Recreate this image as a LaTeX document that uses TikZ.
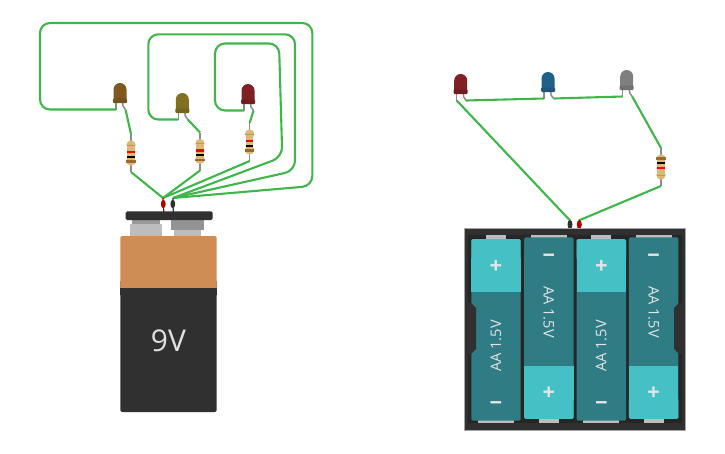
\documentclass[tikz,border=0pt]{standalone}
\usepackage{fontspec}
\setmainfont{Open Sans}
\usetikzlibrary{positioning}
\definecolor{wiregreen}{HTML}{3FB54A}
\definecolor{legray}{HTML}{8C8C8C}
\definecolor{ledbrown}{HTML}{7F5A20}
\definecolor{ledolive}{HTML}{807020}
\definecolor{ledred}{HTML}{7E2024}
\definecolor{ledblue}{HTML}{1F6088}
\definecolor{ledgray}{HTML}{7F7F7F}
\definecolor{resbody}{HTML}{DDB878}
\definecolor{resbrown}{HTML}{9A6A30}
\definecolor{resgold}{HTML}{B89A50}
\definecolor{cellteal}{HTML}{2F7C85}
\definecolor{cellplus}{HTML}{45C1C6}
\definecolor{caseblack}{HTML}{303030}
\definecolor{metal}{HTML}{BDBDBD}
\definecolor{orangecase}{HTML}{CE8D54}
\tikzset{wire/.style={draw=wiregreen, line width=2.1pt, line join=round}}
\tikzset{roundwire/.style={wire, rounded corners=10pt}}
\tikzset{leg/.style={draw=legray, line width=1.5pt}}
\tikzset{celltext/.style={text=white!90!black, inner sep=0pt}}
\tikzset{pics/led/.style={code={
    \draw [leg] (-4,18) -- (-4,26.5);
    \draw [leg] (2.5,18) -- (3,23) -- (5.5,26.5);
    \fill [#1] (-6.5,17) -- (-6.5,6.5) arc [start angle=180, end angle=360, radius=6.5] -- (6.5,17) -- cycle;
    \fill [#1!90!black, rounded corners=1pt] (-7,15.5) rectangle (7,20);
    \coordinate (-a) at (-4,26.5);
    \coordinate (-k) at (5.5,26.5);
}}}
\tikzset{pics/resistor/.style={code={
    \draw [leg] (0,-19) -- (0,19);
    \fill [resbody] (0,-8) ellipse [x radius=4.7, y radius=4.6];
    \fill [resbody] (0,8) ellipse [x radius=4.7, y radius=4.6];
    \fill [resbody] (-3.6,-9) rectangle (3.6,9);
    \fill [resgold]  (-4.4,-8.4) rectangle (4.4,-7.6);
    \fill [red]      (-3.6,-2.2) rectangle (3.6,0);
    \fill [black]    (-3.6,2.6) rectangle (3.6,4.8);
    \fill [resbrown] (-4.6,7.4) rectangle (4.6,9.8);
    \coordinate (-t) at (0,-19);
    \coordinate (-b) at (0,19);
}}}
\tikzset{pics/aacell/.style={code={
    \fill [metal] (-10,-95) rectangle (10,-90);
    \fill [metal] (-18,90) rectangle (18,93.5);
    \fill [cellteal, rounded corners=1.5pt] (-24.7,-90.8) rectangle (24.7,90.8);
    \fill [cellplus, rounded corners=1.5pt] (-24.7,-90.8) rectangle (24.7,-70);
    \fill [cellplus] (-24.7,-72) rectangle (24.7,-38.2);
    \node [celltext, font=\bfseries\fontsize{22}{22}\selectfont] (-plus) at (0,-63) {+};
    \node [celltext, rotate=90, font=\fontsize{14.6}{15}\selectfont] (-label) at (0,16.2) {AA 1.5V};
    \node [celltext, font=\bfseries\fontsize{22}{22}\selectfont] (-minus) at (0,76.5) {\char"2212};
}}}

\begin{document}
\begin{tikzpicture}[x=1pt, y=-1pt]
  \useasboundingbox (0,0) rectangle (725,453);

  % left circuit
  \begin{scope}
    \pic (ledA) at (120,83)    {led=ledbrown};
    \pic (ledB) at (182.3,93)  {led=ledolive};
    \pic (ledC) at (248,84)    {led=ledred};
    \pic (resA) at (131,153)   {resistor};
    \pic (resB) at (200,151.5) {resistor};
    \pic (resC) at (249.7,142) {resistor};

    \coordinate (clipred)   at (163,198);
    \coordinate (clipblack) at (173,198);

    \draw [wire]      (ledA-k) -- (resA-t);
    \draw [wire]      (ledB-k) -- (resB-t);
    \draw [wire]      (ledC-k) -- (resC-t);
    \draw [wire]      (resA-b) -- (clipred);
    \draw [wire]      (resB-b) -- (clipred);
    \draw [wire]      (resC-b) -- (clipred);
    \draw [roundwire] (ledA-a) -- (40,109.5) -- (40,23)   -- (312.3,23) -- (312.3,186)   -- (clipblack);
    \draw [roundwire] (ledB-a) -- (148.3,119.5) -- (148.3,34.3) -- (295,34.3) -- (295,170.7) -- (clipblack);
    \draw [roundwire] (ledC-a) -- (215,110.5) -- (215,43.5) -- (279,43.5) -- (282.3,157) -- (clipblack);

    % 9V battery
    \draw [line width=1.2pt, red!70!black] (clipred) -- (163.8,212);
    \draw [line width=1.2pt, caseblack]    (clipblack) -- (173.2,212);
    \fill [red!70!black] (163.3,204) ellipse [x radius=2.4, y radius=4.2];
    \fill [caseblack]    (172.8,204) ellipse [x radius=2.4, y radius=4.2];

    \fill [gray!80]   (132.3,219) rectangle (160,225);
    \fill [metal]     (129.7,224) rectangle (162.3,237);
    \fill [gray!85]   (171,219) rectangle (204,230);
    \fill [metal]     (174,230) rectangle (201.3,237);
    \fill [caseblack, rounded corners=1.5pt] (125.7,211.3) rectangle (212.7,220);
    \fill [caseblack, rounded corners=1.5pt] (120.3,280) rectangle (216.7,412);
    \fill [orangecase, rounded corners=1.5pt] (120.3,236) rectangle (216.7,290);
    \fill [caseblack] (120.3,288) rectangle (216.7,295);
    \node [text=white!88!black, inner sep=0pt, font=\fontsize{30}{30}\selectfont] (ninev) at (168.5,341) {9V};
  \end{scope}

  % right circuit
  \begin{scope}
    \pic (ledD) at (460.7,74) {led=ledred};
    \pic (ledE) at (548,72)   {led=ledblue};
    \pic (ledF) at (626.7,70) {led=ledgray};
    \pic [rotate=180] (resD) at (661,167) {resistor};

    \coordinate (termblack) at (570,220.5);
    \coordinate (termred)   at (578.7,220.5);

    \draw [wire] (ledD-a) -- (termblack);
    \draw [wire] (ledD-k) -- (ledE-a);
    \draw [wire] (ledE-k) -- (ledF-a);
    \draw [wire] (ledF-k) -- (resD-b);
    \draw [wire] (resD-t) -- (termred);

    % battery holder
    \fill [caseblack]    (570,224.5) ellipse [x radius=2.5, y radius=4.5];
    \fill [red!70!black] (579.3,224.5) ellipse [x radius=2.5, y radius=4.5];
    \fill [caseblack, draw=gray!70, line width=0.6pt] (464.3,228) rectangle (685,430);
    \fill [black!85] (468,234.7) rectangle (681.7,423.3);

    \pic [transform shape]             (cellA) at (496,329.85)   {aacell};
    \pic [rotate=180, transform shape] (cellB) at (548.85,328.15) {aacell};
    \pic [transform shape]             (cellC) at (601.3,329.85) {aacell};
    \pic [rotate=180, transform shape] (cellD) at (653.65,328.15) {aacell};

    \fill [caseblack] (467,303) -- (471,303) -- (476,308) -- (476,349) -- (471,354) -- (467,354) -- cycle;
    \fill [caseblack] (683,303) -- (679,303) -- (674,308) -- (674,349) -- (679,354) -- (683,354) -- cycle;
  \end{scope}
\end{tikzpicture}
\end{document}
